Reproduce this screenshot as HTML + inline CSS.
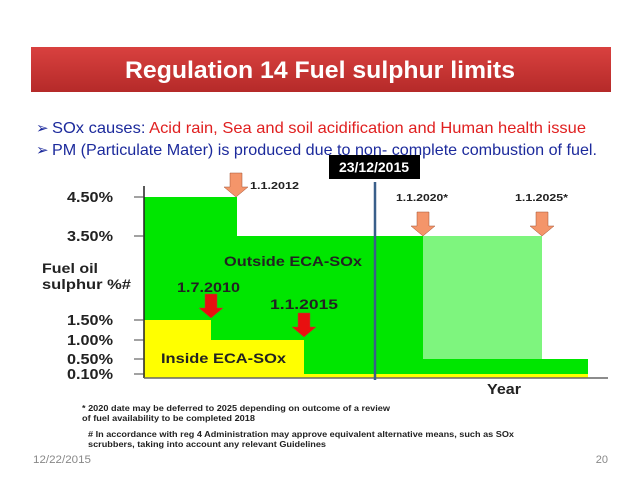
<!DOCTYPE html>
<html><head><meta charset="utf-8"><style>
body{margin:0;width:638px;height:478px;background:#fff;overflow:hidden;font-family:"Liberation Sans",sans-serif}
svg{position:absolute;left:0;top:0}
</style></head><body>
<svg width="638" height="478">
<defs><linearGradient id="tg" x1="0" y1="0" x2="0" y2="1"><stop offset="0" stop-color="#d9413f"/><stop offset="1" stop-color="#b52a29"/></linearGradient></defs>
<rect x="31" y="47" width="580" height="45" fill="url(#tg)"/>
<text x="125" y="78" font-size="24" font-weight="bold" fill="#fff" textLength="390" lengthAdjust="spacingAndGlyphs">Regulation 14 Fuel sulphur limits</text>
<text x="36" y="133" font-size="15" fill="#1c2a9c">➢</text>
<text x="52" y="133" font-size="16" fill="#1c2a9c" textLength="534" lengthAdjust="spacingAndGlyphs">SOx causes: <tspan fill="#e02020">Acid rain, Sea and soil acidification and Human health issue</tspan></text>
<text x="36" y="155" font-size="15" fill="#1c2a9c">➢</text>
<text x="52" y="155" font-size="16" fill="#1c2a9c" textLength="545" lengthAdjust="spacingAndGlyphs">PM (Particulate Mater) is produced due to non- complete combustion of fuel.</text>
<g id="chart"></g>
<text x="82" y="411" font-size="8" font-weight="bold" fill="#222" textLength="308" lengthAdjust="spacingAndGlyphs">* 2020 date may be deferred to 2025 depending on outcome of a review</text>
<text x="82" y="421" font-size="8" font-weight="bold" fill="#222" textLength="173" lengthAdjust="spacingAndGlyphs">of fuel availability to be completed 2018</text>
<text x="88" y="437" font-size="8" font-weight="bold" fill="#222" textLength="426" lengthAdjust="spacingAndGlyphs"># In accordance with reg 4 Administration may approve equivalent alternative means, such as SOx</text>
<text x="88" y="447" font-size="8" font-weight="bold" fill="#222" textLength="238" lengthAdjust="spacingAndGlyphs">scrubbers, taking into account any relevant Guidelines</text>
<text x="33" y="463" font-size="11" fill="#888" textLength="58" lengthAdjust="spacingAndGlyphs">12/22/2015</text>
<text x="608" y="463" font-size="11" fill="#888" text-anchor="end">20</text>
</svg>
<script>
const tickLabels=["4.50%","3.50%","1.50%","1.00%","0.50%","0.10%"];
const tickValues=[4.5,3.5,1.5,1.0,0.5,0.1];
const outsideYears=[2008,2012,2020,2026];
const outsideValues=[4.5,3.5,0.5];
const insideYears=[2008,2010.5,2015,2026];
const insideValues=[1.5,1.0,0.1];
const lightYears=[2020,2025];
const lightValue=3.5;
const tickPx=[197,236,320,340,359,374];
function y(v){if(v<=0)return 378;for(let i=0;i<tickValues.length-1;i++){const a=tickValues[i],b=tickValues[i+1];if(v<=a&&v>=b)return tickPx[i]+(a-v)/(a-b)*(tickPx[i+1]-tickPx[i]);}if(v<0.1)return 374+(0.1-v)/0.1*4;return 197;}
const xs={2008:144,2010.5:211,2012:237,2015:304,2020:423,2025:542,2026:588};
function x(t){return xs[t];}
const NS="http://www.w3.org/2000/svg",g=document.getElementById('chart');
function el(tag,at){const e=document.createElementNS(NS,tag);for(const k in at)e.setAttribute(k,at[k]);g.appendChild(e);return e;}
let r;
for(let i=0;i<outsideValues.length;i++){
r=el('rect',{x:x(outsideYears[i]),y:y(outsideValues[i]),width:x(outsideYears[i+1])-x(outsideYears[i]),height:378-y(outsideValues[i]),fill:'#00e600'});

}
r=el('rect',{x:x(lightYears[0]),y:y(lightValue),width:x(lightYears[1])-x(lightYears[0]),height:y(0.5)-y(lightValue),fill:'#7ef57e'});


for(let i=0;i<insideValues.length;i++){
r=el('rect',{x:x(insideYears[i]),y:y(insideValues[i]),width:x(insideYears[i+1])-x(insideYears[i]),height:378-y(insideValues[i]),fill:'#ffff00'});

}
r=el('line',{x1:144,y1:186,x2:144,y2:378,stroke:'#222','stroke-width':1.5});


r=el('line',{x1:144,y1:378,x2:608,y2:378,stroke:'#666','stroke-width':1.5});


tickLabels.forEach((l,i)=>{
const t=el('line',{x1:134,y1:y(tickValues[i]),x2:144,y2:y(tickValues[i]),stroke:'#444','stroke-width':1});


const tx=el('text',{x:67,y:y(tickValues[i])+5,'font-size':15,'font-weight':'bold',fill:'#222',textLength:46,lengthAdjust:'spacingAndGlyphs'});tx.textContent=l;

});
function txt(s,xx,yy,fs,name,len,fill){const t=el('text',{x:xx,y:yy,'font-size':fs,'font-weight':'bold',fill:fill||'#222'});t.textContent=s;
if(len){t.setAttribute('textLength',len);t.setAttribute('lengthAdjust','spacingAndGlyphs');}

return t;}
txt('Fuel oil',42,273,14,'y-axis-title',56);
txt('sulphur %#',42,289,14,'y-axis-title-line2',89);
txt('Outside ECA-SOx',224,266,14,'outside-eca-label',138);
txt('Inside ECA-SOx',161,363,14,'inside-eca-label',125);
txt('Year',487,394,15,'x-axis-title',34);
txt('1.7.2010',177,292,14,'date-2010',63);
txt('1.1.2015',270,309,14,'date-2015',68);
txt('1.1.2012',250,189,10,'date-2012',49);
txt('1.1.2020*',396,201,10,'date-2020',52);
txt('1.1.2025*',515,201,10,'date-2025',53);
function arrow(cx,tip,fill,name){const p=el('polygon',{points:`${cx-6},${tip-24} ${cx+6},${tip-24} ${cx+6},${tip-10} ${cx+12},${tip-10} ${cx},${tip} ${cx-12},${tip-10} ${cx-6},${tip-10}`,fill:fill,stroke:'#a05030','stroke-width':0.5});

}
arrow(236,197,'#f4956a','arrow-2012');
arrow(423,236,'#f4956a','arrow-2020');
arrow(542,236,'#f4956a','arrow-2025');
arrow(211,318,'#e81010','arrow-2010');
arrow(304,337,'#e81010','arrow-2015');
r=el('line',{x1:375,y1:182,x2:375,y2:380,stroke:'#3a5f8a','stroke-width':2.5});


r=el('rect',{x:329,y:155,width:91,height:24,fill:'#000'});


txt('23/12/2015',374,172,14,'today-label',0,'#fff').setAttribute('text-anchor','middle');
</script>
</body></html>
